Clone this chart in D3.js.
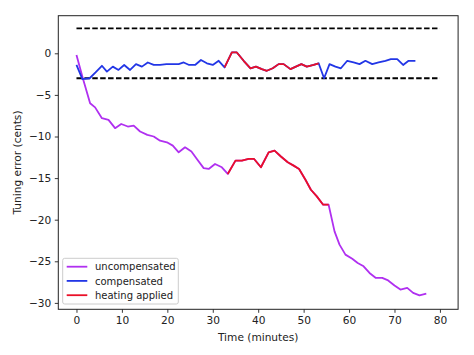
<!DOCTYPE html>
<html><head><meta charset="utf-8">
<script src="https://cdn.jsdelivr.net/npm/d3@7"></script>
<style>html,body{margin:0;padding:0;background:#fff;}svg{display:block;font-family:"DejaVu Sans",sans-serif;}</style>
</head><body><div id="chart"></div>
<script>
const uncompTime = [0,1.4,3,4.1,5.6,7.05,8.5,9.85,11.3,12.6,14,15.6,17,18.4,19.9,21.2,22.5,23.9,25.3,26.5,28,29.1,30.5,32,33.3,35,36.4,37.9,39.1,40.6,42.3,43.6,45,46.5,47.8,49,50.4,51.6,52.9,54.3,55.5,56.8,57.9,59.2,60.7,61.9,63.2,64.5,65.9,67.3,68.6,70,71.3,72.8,74.1,75.5,77];
const uncompVals = [-0.2,-3.0,-6.0,-6.5,-7.8,-8.0,-9.0,-8.5,-8.8,-8.7,-9.4,-9.8,-10.0,-10.5,-10.7,-11.1,-11.9,-11.3,-11.8,-12.7,-13.8,-13.9,-13.3,-13.7,-14.5,-12.9,-12.9,-12.7,-12.7,-13.7,-11.9,-11.7,-12.4,-13.1,-13.5,-13.9,-15.2,-16.4,-17.2,-18.2,-18.2,-21.4,-23.0,-24.2,-24.7,-25.2,-25.6,-26.4,-27.0,-27.0,-27.3,-27.9,-28.4,-28.2,-28.8,-29.1,-28.9];
const compTime = [0,1.3,2.9,4.2,5.6,6.7,8.0,9.25,10.5,11.8,13.1,14.4,15.7,17,18.4,19.8,21.2,22.5,23.6,24.8,26.1,27.4,28.7,30,31.3,32.6,34.2,35.3,36.8,38.3,39.5,40.8,41.9,43.2,44.5,45.6,47.1,48.3,49.5,50.7,52.2,53.3,54.5,55.7,57,58.2,59.6,61,62.3,63.6,65.1,66.5,68,69.2,70.6,71.9,73.1,74.6];
const compVals = [-1.4,-3.1,-3.0,-2.3,-1.5,-2.2,-1.6,-2.0,-1.4,-2.0,-1.3,-1.6,-1.1,-1.4,-1.4,-1.3,-1.3,-1.3,-1.1,-1.4,-1.4,-0.8,-1.2,-1.4,-0.9,-1.7,0.1,0.1,-0.9,-1.8,-1.6,-1.9,-2.1,-1.8,-1.3,-1.3,-1.9,-1.6,-1.3,-1.6,-1.4,-1.2,-3.0,-1.3,-1.6,-1.8,-0.9,-1.1,-1.3,-0.9,-1.3,-1.1,-0.9,-0.7,-0.7,-1.4,-0.9,-0.9];
const heatComp = [32.6, 53.3];
const heatUncomp = [33.3, 55.5];
const limits = [3, -3];
const limitSpan = [0, 80];
const xTicks = [0,10,20,30,40,50,60,70,80];
const yTicks = [0,-5,-10,-15,-20,-25,-30];
const legendLabels = ["uncompensated","compensated","heating applied"];
const colors = {uncomp:"#b030f0", comp:"#2236e6", heat:"#ea1028"};

const W = 474, H = 355;
const L = 58.3, R = 458.1, T = 15.7, B = 309.3;
const x = d3.scaleLinear().domain([-4, 84]).range([L, R]);
const y = d3.scaleLinear().domain([-30.77, 4.52]).range([B, T]);

const svg = d3.select("#chart").append("svg").attr("width", W).attr("height", H);

svg.append("defs").append("clipPath").attr("id","clip")
  .append("rect").attr("x",L).attr("y",T).attr("width",R-L).attr("height",B-T);
const plot = svg.append("g").attr("clip-path","url(#clip)");

// dashed limits
limits.forEach(v => {
  plot.append("line").attr("x1", x(limitSpan[0])).attr("x2", x(limitSpan[1]))
    .attr("y1", y(v)).attr("y2", y(v))
    .attr("stroke","#000").attr("stroke-width",1.8).attr("stroke-dasharray","5.5,2.4");
});

const line = d3.line().x(d => x(d[0])).y(d => y(d[1]));
const uncomp = uncompTime.map((t,i) => [t, uncompVals[i]]);
const comp = compTime.map((t,i) => [t, compVals[i]]);
const eps = 1e-6;
plot.append("path").datum(uncomp).attr("d", line).attr("fill","none")
  .attr("stroke",colors.uncomp).attr("stroke-width",1.8).attr("stroke-linejoin","round");
plot.append("path").datum(comp).attr("d", line).attr("fill","none")
  .attr("stroke",colors.comp).attr("stroke-width",1.8).attr("stroke-linejoin","round");
plot.append("path").datum(uncomp.filter(d => d[0] >= heatUncomp[0]-eps && d[0] <= heatUncomp[1]+eps))
  .attr("d", line).attr("fill","none").attr("stroke",colors.heat).attr("stroke-width",1.8).attr("stroke-linejoin","round");
plot.append("path").datum(comp.filter(d => d[0] >= heatComp[0]-eps && d[0] <= heatComp[1]+eps))
  .attr("d", line).attr("fill","none").attr("stroke",colors.heat).attr("stroke-width",1.8).attr("stroke-linejoin","round");

// axes
const fmt = d => (d < 0 ? "\u2212" + Math.abs(d) : String(d));
const xAxis = svg.append("g").attr("transform",`translate(0,${B})`)
  .call(d3.axisBottom(x).tickValues(xTicks).tickFormat(fmt).tickSize(3.5).tickPadding(3.5));
const yAxis = svg.append("g").attr("transform",`translate(${L},0)`)
  .call(d3.axisLeft(y).tickValues(yTicks).tickFormat(fmt).tickSize(3.5).tickPadding(3.5));
[xAxis, yAxis].forEach(g => {
  g.select(".domain").remove();
  g.selectAll(".tick line").attr("stroke","#222").attr("stroke-width",0.9);
  g.selectAll(".tick text").attr("fill","#222").attr("font-size","10.6px").attr("font-family","DejaVu Sans");
});

// frame
svg.append("rect").attr("x",L).attr("y",T).attr("width",R-L).attr("height",B-T)
  .attr("fill","none").attr("stroke","#222").attr("stroke-width",1);

// labels
svg.append("text").attr("x",(L+R)/2).attr("y",340.5).attr("text-anchor","middle")
  .attr("font-size","10.6px").attr("fill","#222").text("Time (minutes)");
svg.append("text").attr("transform",`translate(21,${(T+B)/2}) rotate(-90)`).attr("text-anchor","middle")
  .attr("font-size","10.6px").attr("fill","#222").text("Tuning error (cents)");

// legend
const lg = svg.append("g");
lg.append("rect").attr("x",62.7).attr("y",258.3).attr("width",115.6).attr("height",45.7)
  .attr("rx",2).attr("fill","#fff").attr("fill-opacity",0.8).attr("stroke","#ccc").attr("stroke-width",1);
const lc = [colors.uncomp, colors.comp, colors.heat];
const rowY = [266.7, 280.9, 295.2];
legendLabels.forEach((lab,i) => {
  lg.append("line").attr("x1",66.7).attr("x2",87.3).attr("y1",rowY[i]).attr("y2",rowY[i])
    .attr("stroke",lc[i]).attr("stroke-width",1.8);
  lg.append("text").attr("x",95).attr("y",rowY[i]+3.6).attr("font-size","10px").attr("fill","#222").text(lab);
});
</script>
</body></html>
